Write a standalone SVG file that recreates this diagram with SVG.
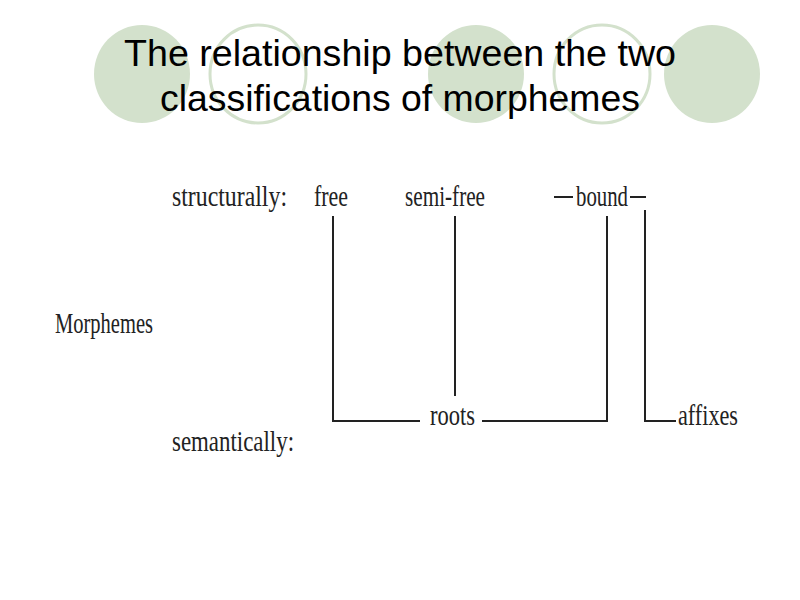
<svg xmlns="http://www.w3.org/2000/svg" width="800" height="600" viewBox="0 0 800 600">
<style>
.f{fill:#d3e1cc}
.o{fill:#fff;stroke:#d3e1cc;stroke-width:3}
.t{font-family:"Liberation Sans",Arial,sans-serif;font-size:37px;fill:#000;text-anchor:middle}
.l{stroke:#222;stroke-width:2;fill:none}
</style>
<rect width="800" height="600" fill="#fff"/>
<g id="bg">
<ellipse class="f" cx="142" cy="74" rx="48" ry="49"/>
<ellipse class="o" cx="258" cy="74" rx="48" ry="49"/>
<ellipse class="f" cx="476" cy="74" rx="48" ry="49"/>
<ellipse class="o" cx="602" cy="74" rx="48" ry="49"/>
<ellipse class="f" cx="712" cy="74" rx="48" ry="49"/>
</g>
<g id="title">
<text class="t" x="400" y="66" textLength="552" lengthAdjust="spacingAndGlyphs">The relationship between the two</text>
<text class="t" x="400" y="111" textLength="480" lengthAdjust="spacingAndGlyphs">classifications of morphemes</text>
</g>
<g id="labels" font-family="Liberation Serif,serif" font-size="30" fill="#222">
<text x="172" y="206" textLength="115" lengthAdjust="spacingAndGlyphs">structurally:</text>
<text x="314" y="206" textLength="34" lengthAdjust="spacingAndGlyphs">free</text>
<text x="405" y="206" textLength="80" lengthAdjust="spacingAndGlyphs">semi-free</text>
<text x="576" y="206" textLength="52" lengthAdjust="spacingAndGlyphs">bound</text>
<text x="55" y="333" textLength="98" lengthAdjust="spacingAndGlyphs">Morphemes</text>
<text x="430" y="425" textLength="45" lengthAdjust="spacingAndGlyphs">roots</text>
<text x="678" y="425" textLength="60" lengthAdjust="spacingAndGlyphs">affixes</text>
<text x="172" y="451" textLength="122" lengthAdjust="spacingAndGlyphs">semantically:</text>
</g>
<g id="connectors" class="l">
<path class="l" d="M333 216V421H420"/>
<path class="l" d="M455 216V396"/>
<path class="l" d="M482 421H607V216"/>
<path class="l" d="M554 197H573M630 197H646"/>
<path class="l" d="M645 210V421H676"/>
</g>
</svg>
